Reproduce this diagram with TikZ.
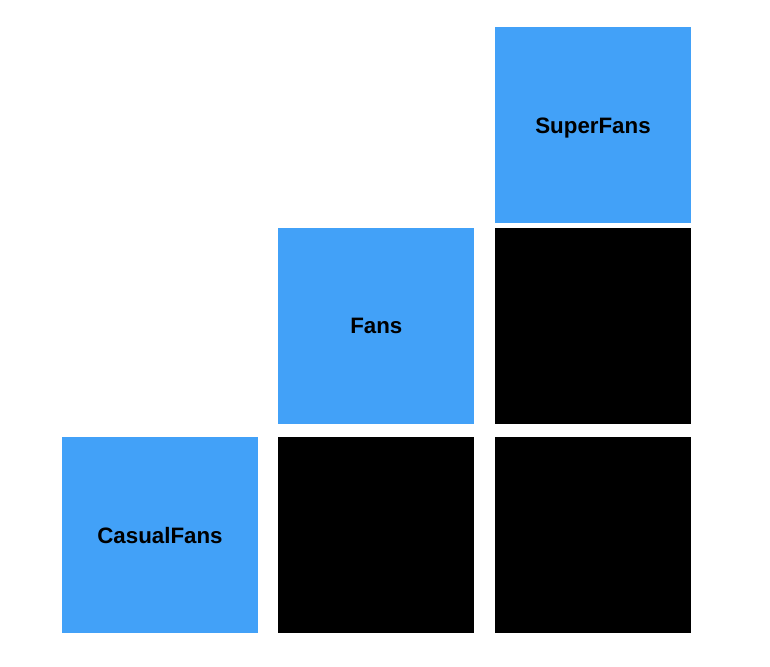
\documentclass[tikz,border=0pt]{standalone}
\usepackage{fontspec}
\setmainfont{Liberation Sans}
\usepackage{tikz}

\begin{document}
\begin{tikzpicture}
			[x=0.02cm,y=-0.02cm,
			%Styles
			tile/.style={minimum size=3.92cm,inner sep=0pt,outer sep=0pt},
			fan tile/.style={tile,fill=fanblue,text height=9pt,text depth=0pt,
				font=\fontsize{12.7}{15}\selectfont\bfseries},
			dark tile/.style={tile,fill=black}
			]
			
			%Colors
			\definecolor{fanblue}{RGB}{66,161,248}
			
			%The graphic
			\useasboundingbox (0,0) rectangle (770,666);
			
			\node[fan tile] (superfans) at (593, 125.3) {SuperFans};
			\node[fan tile] (fans) at (376.3, 325.7) {Fans};
			\node[fan tile] (casualfans) at (160, 535.3) {CasualFans};
			
			\node[dark tile] (midright) at (593, 325.7) {};
			\node[dark tile] (lowmid) at (376.3, 535.3) {};
			\node[dark tile] (lowright) at (593, 535.3) {};
		\end{tikzpicture}
\end{document}
